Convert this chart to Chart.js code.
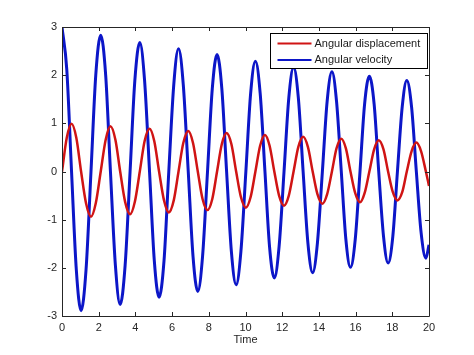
<!DOCTYPE html>
<html>
<head>
<meta charset="utf-8">
<script src="https://cdn.jsdelivr.net/npm/chart.js@4/dist/chart.umd.min.js"></script>
<style>
  html, body { margin: 0; padding: 0; background: #ffffff; }
  #wrap { width: 474px; height: 355px; }
</style>
</head>
<body>
<div id="wrap"><canvas id="c" width="474" height="355"></canvas></div>
<script>
// ---- data ----
const time = [
  0, 0.26, 0.52, 0.78, 1.04,
  1.31, 1.58, 1.84, 2.11,
  2.38, 2.64, 2.91, 3.17,
  3.44, 3.71, 3.97, 4.24,
  4.50, 4.77, 5.03, 5.29,
  5.56, 5.82, 6.09, 6.35,
  6.61, 6.88, 7.14, 7.40,
  7.66, 7.93, 8.19, 8.45,
  8.71, 8.97, 9.23, 9.49,
  9.75, 10.02, 10.28, 10.54,
  10.80, 11.06, 11.31, 11.57,
  11.83, 12.10, 12.36, 12.62,
  12.88, 13.14, 13.40, 13.66,
  13.92, 14.19, 14.45, 14.71,
  14.96, 15.22, 15.47, 15.72,
  15.98, 16.24, 16.49, 16.75,
  17.01, 17.26, 17.52, 17.77,
  18.03, 18.28, 18.54, 18.79,
  19.05, 19.31, 19.57, 19.83,
  20
];
const angularDisplacement = [
  0, 0.70, 0.99, 0.70, 0,
  -0.66, -0.94, -0.66, 0,
  0.66, 0.94, 0.66, 0,
  -0.63, -0.89, -0.63, 0,
  0.63, 0.89, 0.63, 0,
  -0.60, -0.85, -0.60, 0,
  0.59, 0.84, 0.59, 0,
  -0.57, -0.80, -0.57, 0,
  0.57, 0.80, 0.57, 0,
  -0.53, -0.75, -0.53, 0,
  0.54, 0.76, 0.54, 0,
  -0.50, -0.71, -0.50, 0,
  0.51, 0.72, 0.51, 0,
  -0.47, -0.67, -0.47, 0,
  0.48, 0.68, 0.48, 0,
  -0.45, -0.64, -0.45, 0,
  0.46, 0.65, 0.46, 0,
  -0.43, -0.60, -0.43, 0,
  0.42, 0.60, 0.42, 0,
  -0.30
];
const angularVelocity = [
  3.00, 2.12, 0, -2.04, -2.89,
  -2.04, 0, 2.00, 2.83,
  2.00, 0, -1.95, -2.76,
  -1.95, 0, 1.89, 2.68,
  1.89, 0, -1.85, -2.61,
  -1.85, 0, 1.80, 2.55,
  1.80, 0, -1.76, -2.49,
  -1.76, 0, 1.72, 2.43,
  1.72, 0, -1.66, -2.35,
  -1.66, 0, 1.62, 2.29,
  1.62, 0, -1.56, -2.21,
  -1.56, 0, 1.53, 2.16,
  1.53, 0, -1.48, -2.10,
  -1.48, 0, 1.46, 2.07,
  1.46, 0, -1.41, -1.99,
  -1.41, 0, 1.40, 1.98,
  1.40, 0, -1.34, -1.90,
  -1.34, 0, 1.34, 1.89,
  1.34, 0, -1.27, -1.80,
  -1.52
];
const seriesLabels = ['Angular displacement', 'Angular velocity'];
const xTicks = [0, 2, 4, 6, 8, 10, 12, 14, 16, 18, 20];
const yTicks = [-3, -2, -1, 0, 1, 2, 3];
const xTitle = 'Time';

const FONT = "'Liberation Sans', Arial, sans-serif";
const AXIS_COLOR = '#262626';

// box + inward ticks on all four sides (MATLAB style)
const boxPlugin = {
  id: 'matlabBox',
  afterDatasetsDraw(chart) {
    const { ctx, chartArea: a, scales } = chart;
    ctx.save();
    ctx.strokeStyle = AXIS_COLOR;
    ctx.lineWidth = 1;
    ctx.beginPath();
    ctx.rect(Math.round(a.left) + 0.5, Math.round(a.top) + 0.5,
             Math.round(a.right - a.left), Math.round(a.bottom - a.top));
    ctx.stroke();
    const L = 4;
    ctx.beginPath();
    xTicks.forEach(v => {
      const x = Math.round(scales.x.getPixelForValue(v)) + 0.5;
      ctx.moveTo(x, a.bottom); ctx.lineTo(x, a.bottom - L);
      ctx.moveTo(x, a.top); ctx.lineTo(x, a.top + L);
    });
    yTicks.forEach(v => {
      const y = Math.round(scales.y.getPixelForValue(v)) + 0.5;
      ctx.moveTo(a.left, y); ctx.lineTo(a.left + L, y);
      ctx.moveTo(a.right, y); ctx.lineTo(a.right - L, y);
    });
    ctx.stroke();

    // legend box inside the axes, top-right
    const w = 157, h = 35;
    const lx = Math.round(a.right - 2 - w) + 0.5, ly = Math.round(a.top + 6) + 0.5;
    ctx.fillStyle = '#ffffff';
    ctx.fillRect(lx, ly, w, h);
    ctx.strokeStyle = '#000000';
    ctx.strokeRect(lx, ly, w, h);
    ctx.font = '11px ' + FONT;
    ctx.textBaseline = 'middle';
    ctx.textAlign = 'left';
    chart.data.datasets.forEach((ds, i) => {
      const yy = ly + 10 + i * 16.5;
      ctx.strokeStyle = ds.borderColor;
      ctx.lineWidth = 2;
      ctx.beginPath();
      ctx.moveTo(lx + 7, yy); ctx.lineTo(lx + 41, yy);
      ctx.stroke();
      ctx.fillStyle = '#1a1a1a';
      ctx.fillText(ds.label, lx + 44, yy);
    });
    ctx.restore();
  }
};

const toPts = vals => time.map((t, i) => ({ x: t, y: vals[i] }));

new Chart(document.getElementById('c'), {
  type: 'line',
  data: {
    datasets: [
      { label: seriesLabels[0], data: toPts(angularDisplacement), borderColor: '#d01414', borderWidth: 2.5,
        pointRadius: 0, cubicInterpolationMode: 'monotone', fill: false },
      { label: seriesLabels[1], data: toPts(angularVelocity), borderColor: '#0c16c8', borderWidth: 3,
        pointRadius: 0, cubicInterpolationMode: 'monotone', fill: false }
    ]
  },
  options: {
    responsive: false,
    animation: false,
    devicePixelRatio: 1,
    layout: { padding: { left: 0, right: 45, top: 27, bottom: 0 } },
    plugins: { legend: { display: false }, tooltip: { enabled: false } },
    scales: {
      x: {
        type: 'linear', min: 0, max: 20,
        afterBuildTicks(s) { s.ticks = xTicks.map(v => ({ value: v })); },
        afterFit(s) { s.height = 39; },
        grid: { display: false, drawTicks: false },
        border: { display: false },
        ticks: { color: AXIS_COLOR, font: { family: FONT, size: 11 }, padding: 5, maxRotation: 0, autoSkip: false },
        title: { display: true, text: xTitle, color: AXIS_COLOR, font: { family: FONT, size: 11 }, padding: { top: 0, bottom: 8 } }
      },
      y: {
        type: 'linear', min: -3, max: 3,
        afterBuildTicks(s) { s.ticks = yTicks.map(v => ({ value: v })); },
        afterFit(s) { s.width = 62; },
        grid: { display: false, drawTicks: false },
        border: { display: false },
        ticks: { color: AXIS_COLOR, font: { family: FONT, size: 11 }, padding: 5 }
      }
    }
  },
  plugins: [boxPlugin]
});
</script>
</body>
</html>
